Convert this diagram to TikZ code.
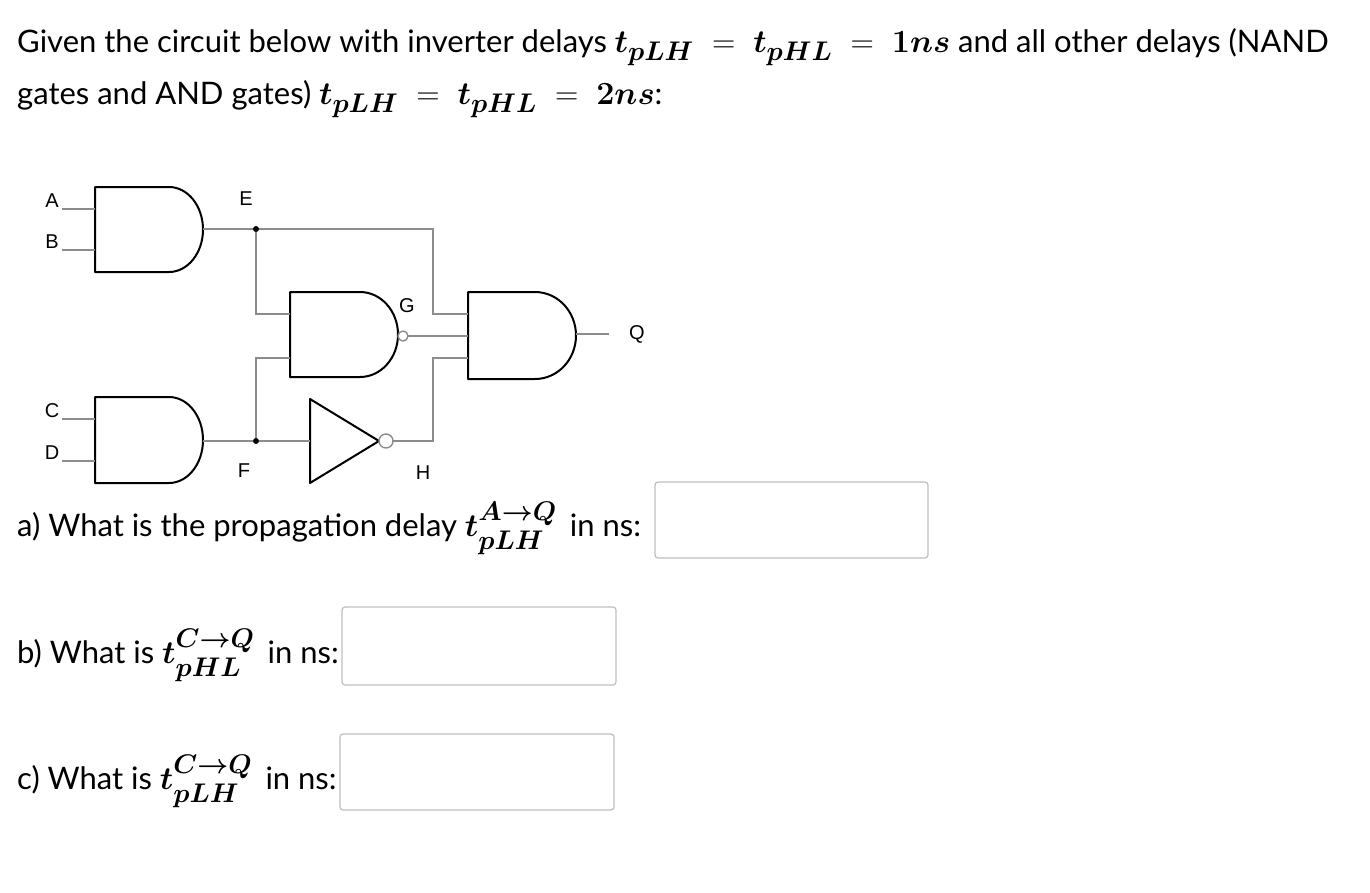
\documentclass[tikz,border=0pt]{standalone}
\usepackage{amsmath,bm,graphicx}
\usepackage{fontspec}
\setmainfont{Lato}
\newfontfamily\gatefont{Liberation Sans}
\newcommand{\mybigmath}[1]{\scalebox{1.3}{$#1$}}
\begin{document}
\begin{tikzpicture}[x=1pt,y=-1pt,
  gate/.style={draw=black,line width=2pt,line join=round},
  wire/.style={draw=black!45,line width=1.4pt},
  lbl/.style={font=\gatefont\fontsize{20}{20}\selectfont,inner sep=0pt},
  txt/.style={anchor=west,inner sep=0pt,font=\fontsize{31}{36}\selectfont},
  ansbox/.style={draw=black!25,line width=1.2pt,rounded corners=3pt,fill=white},
  dot/.style={circle,fill=black,inner sep=0pt,minimum size=6pt}]
\useasboundingbox (0,0) rectangle (1370,892);
% text
\node[txt] (l1) at (17,47) {Given the circuit below with inverter delays \mybigmath{\bm{t_{pLH}}\;=\;\bm{t_{pHL}}\;=\;\bm{1ns}} and all other delays (NAND};
\node[txt] (l2) at (17,99) {gates and AND gates) \mybigmath{\bm{t_{pLH}}\;=\;\bm{t_{pHL}}\;=\;\bm{2ns}}:};
\node[txt] (qa) at (17,528) {a) What is the propagation delay \mybigmath{\bm{t^{A\to Q}_{pLH}}}\, in ns:};
\node[txt] (qb) at (17,655) {b) What is \mybigmath{\bm{t^{C\to Q}_{pHL}}}\, in ns:};
\node[txt] (qc) at (17,781) {c) What is \mybigmath{\bm{t^{C\to Q}_{pLH}}}\, in ns:};
\draw[ansbox] (655,482) rectangle (928,558);
\draw[ansbox] (342,607) rectangle (616,685);
\draw[ansbox] (340,734) rectangle (614,810);
% gates
\draw[gate] (95,187) -- (169,187) arc[start angle=90,end angle=-90,x radius=34pt,y radius=42.5pt] -- (95,272) -- cycle;
\draw[gate] (95,397) -- (169,397) arc[start angle=90,end angle=-90,x radius=34pt,y radius=43pt] -- (95,483) -- cycle;
\draw[gate] (290,292) -- (360,292) arc[start angle=90,end angle=-90,x radius=38pt,y radius=42.5pt] -- (290,377) -- cycle;
\draw[gate] (468,292) -- (535,292) arc[start angle=90,end angle=-90,x radius=41pt,y radius=43.5pt] -- (468,379) -- cycle;
\draw[gate] (310,399) -- (379,441) -- (310,483) -- cycle;
\draw[black!45,line width=1.4pt,fill=white] (403,336) circle (5pt);
\draw[black!45,line width=1.4pt,fill=white] (386,441) circle (7pt);
% coordinates
\coordinate (A) at (62,209); \coordinate (Ai) at (95,209);
\coordinate (B) at (62,250); \coordinate (Bi) at (95,250);
\coordinate (C) at (62,419); \coordinate (Ci) at (95,419);
\coordinate (D) at (62,461); \coordinate (Di) at (95,461);
\coordinate (Eo) at (203,229); \coordinate (Fo) at (203,441);
\node[dot] (E) at (256,229) {};
\node[dot] (F) at (256,441) {};
\coordinate (G1) at (290,314); \coordinate (G2) at (290,358);
\coordinate (Go) at (408,336);
\coordinate (Q1) at (468,314); \coordinate (Q2) at (468,336); \coordinate (Q3) at (468,358);
\coordinate (Io) at (393,441); \coordinate (Ii) at (310,441);
\coordinate (Qo) at (576,334); \coordinate (Qe) at (609,334);
\draw[wire] (A)--(Ai) (B)--(Bi) (C)--(Ci) (D)--(Di);
\draw[wire] (Eo)--(E) -- (433,229) |- (Q1);
\draw[wire] (E) |- (G1);
\draw[wire] (Fo)--(F) -- (Ii);
\draw[wire] (F) |- (G2);
\draw[wire] (Go) -- (Q2);
\draw[wire] (Io) -- (433,441) |- (Q3);
\draw[wire] (Qo) -- (Qe);
% labels
\node[lbl] (lA) at (52,201) {A};
\node[lbl] (lB) at (52,242) {B};
\node[lbl] (lC) at (52,411) {C};
\node[lbl] (lD) at (52,453) {D};
\node[lbl] (lE) at (246,199) {E};
\node[lbl] (lF) at (244,471) {F};
\node[lbl] (lG) at (407,306) {G};
\node[lbl] (lH) at (423,473) {H};
\node[lbl] (lQ) at (637,334) {Q};
\end{tikzpicture}
\end{document}
